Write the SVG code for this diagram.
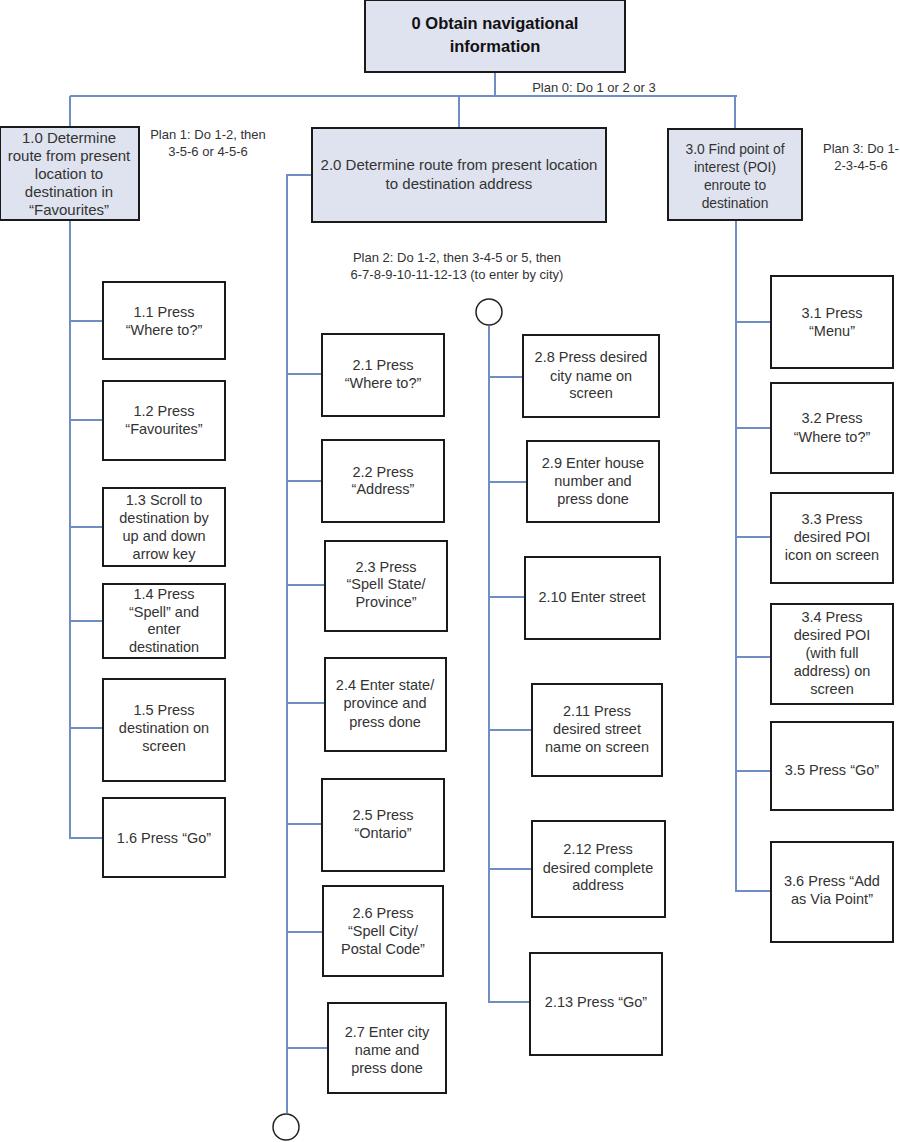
<svg xmlns="http://www.w3.org/2000/svg" width="900" height="1142" viewBox="0 0 900 1142">
<style>
.bx{fill:#ffffff;stroke:#1a1a1a;stroke-width:2}
.hb{fill:#dfe3f0;stroke:#1a1a1a;stroke-width:2}
.t{font-family:"Liberation Sans",Arial,sans-serif;font-size:14.5px;fill:#333;text-anchor:middle}
.h{font-family:"Liberation Sans",Arial,sans-serif;font-size:15px;fill:#333;text-anchor:middle}
.h3{font-family:"Liberation Sans",Arial,sans-serif;font-size:13.8px;fill:#333;text-anchor:middle}
.top{font-family:"Liberation Sans",Arial,sans-serif;font-size:16.5px;font-weight:bold;fill:#111;text-anchor:middle}
.p{font-family:"Liberation Sans",Arial,sans-serif;font-size:13px;fill:#333;text-anchor:middle}
.c{fill:none;stroke:#6f8fc4;stroke-width:2}
.ci{fill:#fff;stroke:#222;stroke-width:1.5}
</style>
<rect width="900" height="1142" fill="#fff"/>
<g id="connectors">
<path class="c" d="M495 72V96M70 96H737M459 96V128M70 96V127M735 96V129"/>
<path class="c" d="M70 220V838H103M70 321H103M70 420H103M70 527H103M70 621H103M70 728H103"/>
<path class="c" d="M312 175H287V1113M287 374H322M287 481H322M287 585H325M287 703H325M287 824H322M287 932H323M287 1048H328"/>
<path class="c" d="M489 326V1002H530M489 377H523M489 482H527M489 597H525M489 730H532M489 869H532"/>
<path class="c" d="M593 483V497" style="stroke-width:1.5"/>
<path class="c" d="M736 220V891H771M736 322H771M736 428H771M736 537H771M736 657H771M736 771H771"/>
<circle class="ci" cx="489" cy="312" r="13"/>
<circle class="ci" cx="286" cy="1127" r="13"/>
</g>
<g id="plans">
<text class="p" x="594" y="92">Plan 0: Do 1 or 2 or 3</text>
<text class="p" x="208" y="139">Plan 1: Do 1-2, then</text>
<text class="p" x="208" y="156">3-5-6 or 4-5-6</text>
<text class="p" x="457" y="262">Plan 2: Do 1-2, then 3-4-5 or 5, then</text>
<text class="p" x="457" y="279">6-7-8-9-10-11-12-13 (to enter by city)</text>
<text class="p" x="861" y="153">Plan 3: Do 1-</text>
<text class="p" x="861" y="170">2-3-4-5-6</text>
</g>
<g id="n0"><rect class="hb" x="365" y="0" width="260" height="72"/>
<text class="top" x="495" y="29">0 Obtain navigational</text><text class="top" x="495" y="52">information</text></g>
<g id="n1_0"><rect class="hb" x="0" y="127" width="139" height="93"/>
<text class="h" x="69" y="143">1.0 Determine</text><text class="h" x="69" y="161">route from present</text><text class="h" x="69" y="179">location to</text><text class="h" x="69" y="197">destination in</text><text class="h" x="69" y="215">“Favourites”</text></g>
<g id="n2_0"><rect class="hb" x="312" y="128" width="294" height="94"/>
<text class="h" x="459" y="170">2.0 Determine route from present location</text><text class="h" x="459" y="189">to destination address</text></g>
<g id="n3_0"><rect class="hb" x="668" y="129" width="134" height="91"/>
<text class="h3" x="735" y="154">3.0 Find point of</text><text class="h3" x="735" y="172">interest (POI)</text><text class="h3" x="735" y="190">enroute to</text><text class="h3" x="735" y="208">destination</text></g>
<g id="n1_1"><rect class="bx" x="103" y="282" width="122" height="77"/><text class="t" x="164" y="317">1.1 Press</text><text class="t" x="164" y="335">“Where to?”</text></g>
<g id="n1_2"><rect class="bx" x="103" y="381" width="122" height="79"/><text class="t" x="164" y="416">1.2 Press</text><text class="t" x="164" y="434">“Favourites”</text></g>
<g id="n1_3"><rect class="bx" x="103" y="488" width="122" height="78"/><text class="t" x="164" y="505">1.3 Scroll to</text><text class="t" x="164" y="523">destination by</text><text class="t" x="164" y="541">up and down</text><text class="t" x="164" y="559">arrow key</text></g>
<g id="n1_4"><rect class="bx" x="103" y="584" width="122" height="74"/><text class="t" x="164" y="599">1.4 Press</text><text class="t" x="164" y="617">“Spell” and</text><text class="t" x="164" y="634">enter</text><text class="t" x="164" y="652">destination</text></g>
<g id="n1_5"><rect class="bx" x="103" y="679" width="122" height="102"/><text class="t" x="164" y="715">1.5 Press</text><text class="t" x="164" y="733">destination on</text><text class="t" x="164" y="751">screen</text></g>
<g id="n1_6"><rect class="bx" x="103" y="798" width="122" height="79"/><text class="t" x="164" y="843">1.6 Press “Go”</text></g>
<g id="n2_1"><rect class="bx" x="322" y="334" width="122" height="82"/><text class="t" x="383" y="370">2.1 Press</text><text class="t" x="383" y="388">“Where to?”</text></g>
<g id="n2_2"><rect class="bx" x="322" y="440" width="122" height="82"/><text class="t" x="383" y="477">2.2 Press</text><text class="t" x="383" y="494">“Address”</text></g>
<g id="n2_3"><rect class="bx" x="325" y="541" width="122" height="90"/><text class="t" x="386" y="572">2.3 Press</text><text class="t" x="386" y="589">“Spell State/</text><text class="t" x="386" y="607">Province”</text></g>
<g id="n2_4"><rect class="bx" x="325" y="658" width="121" height="93"/><text class="t" x="385" y="690">2.4 Enter state/</text><text class="t" x="385" y="708">province and</text><text class="t" x="385" y="727">press done</text></g>
<g id="n2_5"><rect class="bx" x="322" y="779" width="122" height="92"/><text class="t" x="383" y="820">2.5 Press</text><text class="t" x="383" y="838">“Ontario”</text></g>
<g id="n2_6"><rect class="bx" x="323" y="886" width="120" height="90"/><text class="t" x="383" y="918">2.6 Press</text><text class="t" x="383" y="936">“Spell City/</text><text class="t" x="383" y="954">Postal Code”</text></g>
<g id="n2_7"><rect class="bx" x="328" y="1003" width="118" height="90"/><text class="t" x="387" y="1037">2.7 Enter city</text><text class="t" x="387" y="1055">name and</text><text class="t" x="387" y="1073">press done</text></g>
<g id="n2_8"><rect class="bx" x="523" y="335" width="136" height="82"/><text class="t" x="591" y="362">2.8 Press desired</text><text class="t" x="591" y="381">city name on</text><text class="t" x="591" y="398">screen</text></g>
<g id="n2_9"><rect class="bx" x="527" y="441" width="132" height="81"/><text class="t" x="593" y="468">2.9 Enter house</text><text class="t" x="593" y="486">number and</text><text class="t" x="593" y="504">press done</text></g>
<g id="n2_10"><rect class="bx" x="525" y="557" width="135" height="82"/><text class="t" x="592" y="602">2.10 Enter street</text></g>
<g id="n2_11"><rect class="bx" x="532" y="684" width="130" height="92"/><text class="t" x="597" y="716">2.11 Press</text><text class="t" x="597" y="734">desired street</text><text class="t" x="597" y="752">name on screen</text></g>
<g id="n2_12"><rect class="bx" x="532" y="821" width="133" height="96"/><text class="t" x="598" y="854">2.12 Press</text><text class="t" x="598" y="873">desired complete</text><text class="t" x="598" y="890">address</text></g>
<g id="n2_13"><rect class="bx" x="530" y="953" width="132" height="102"/><text class="t" x="596" y="1007">2.13 Press “Go”</text></g>
<g id="n3_1"><rect class="bx" x="771" y="276" width="122" height="92"/><text class="t" x="832" y="318">3.1 Press</text><text class="t" x="832" y="336">“Menu”</text></g>
<g id="n3_2"><rect class="bx" x="771" y="383" width="122" height="90"/><text class="t" x="832" y="423">3.2 Press</text><text class="t" x="832" y="442">“Where to?”</text></g>
<g id="n3_3"><rect class="bx" x="771" y="493" width="122" height="90"/><text class="t" x="832" y="524">3.3 Press</text><text class="t" x="832" y="542">desired POI</text><text class="t" x="832" y="560">icon on screen</text></g>
<g id="n3_4"><rect class="bx" x="771" y="604" width="122" height="100"/><text class="t" x="832" y="622">3.4 Press</text><text class="t" x="832" y="640">desired POI</text><text class="t" x="832" y="658">(with full</text><text class="t" x="832" y="676">address) on</text><text class="t" x="832" y="694">screen</text></g>
<g id="n3_5"><rect class="bx" x="771" y="722" width="122" height="88"/><text class="t" x="832" y="775">3.5 Press “Go”</text></g>
<g id="n3_6"><rect class="bx" x="771" y="842" width="122" height="100"/><text class="t" x="832" y="886">3.6 Press “Add</text><text class="t" x="832" y="904">as Via Point”</text></g>
</svg>
